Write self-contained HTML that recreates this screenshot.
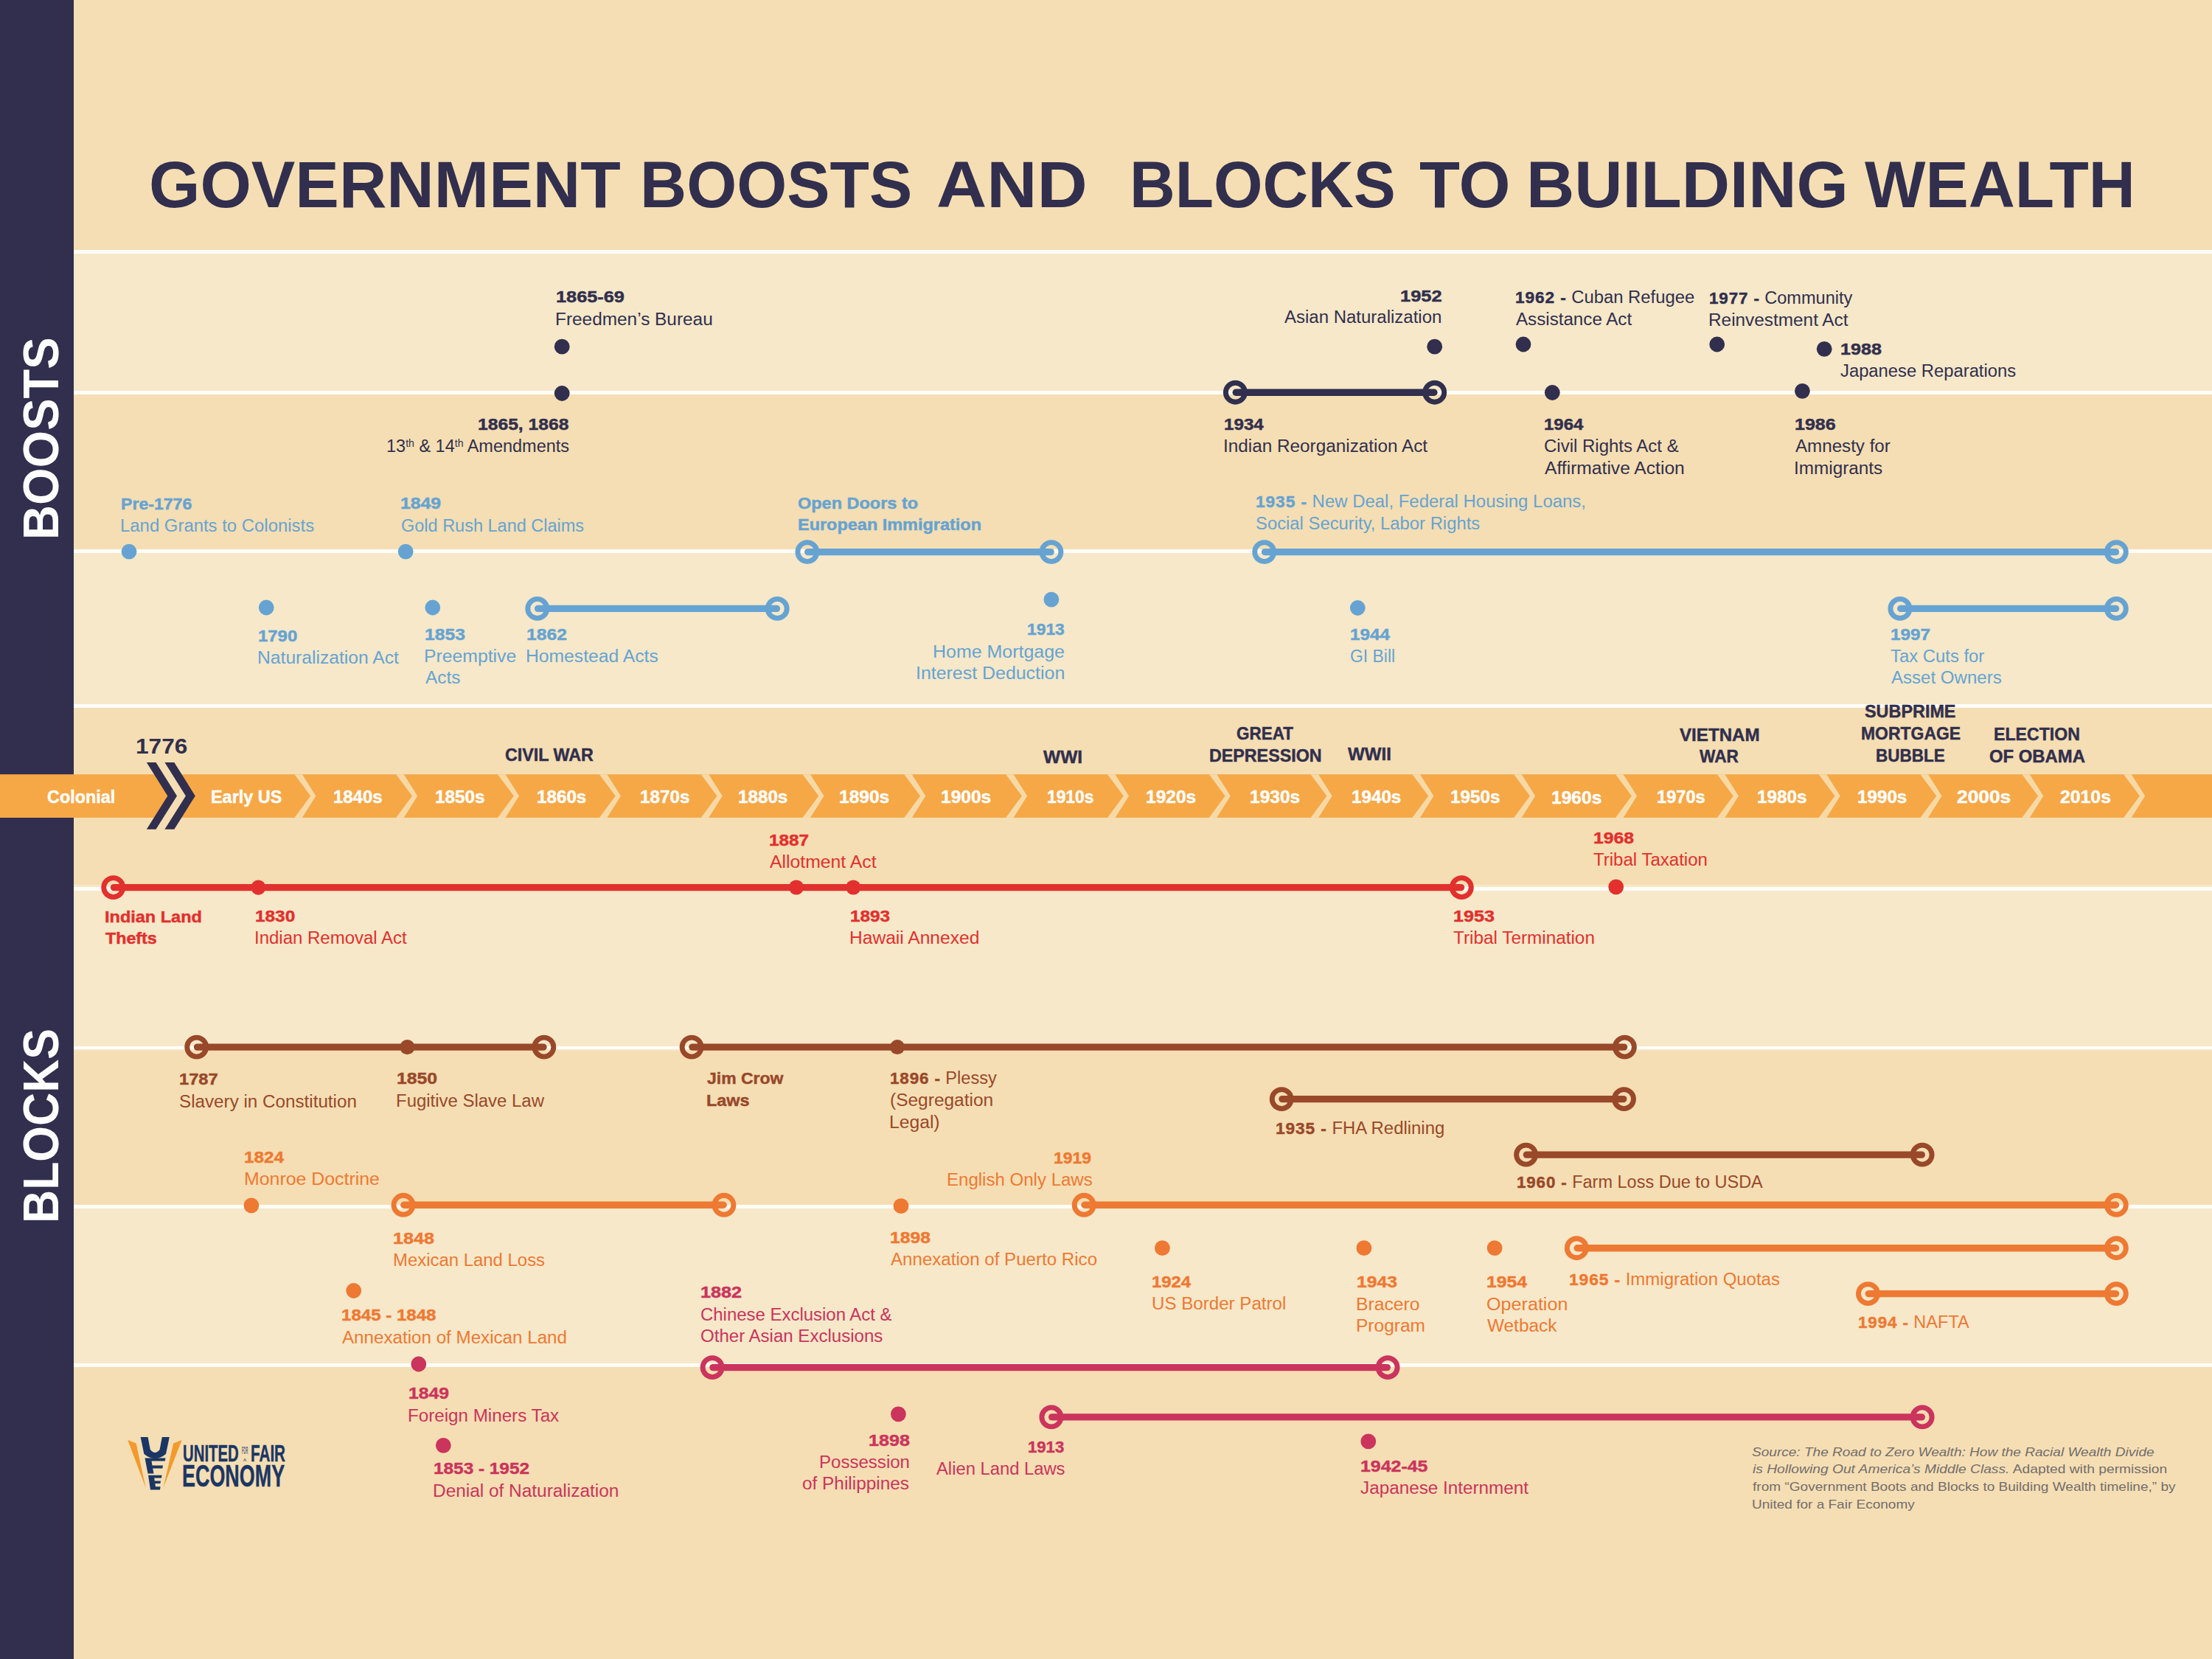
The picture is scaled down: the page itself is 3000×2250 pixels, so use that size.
<!DOCTYPE html><html><head><meta charset="utf-8"><title>Government Boosts and Blocks to Building Wealth</title><style>
html,body{margin:0;padding:0}
body{width:3000px;height:2250px;position:relative;overflow:hidden;background:#f5deb3;font-family:"Liberation Sans", sans-serif;}
.t{position:absolute;white-space:nowrap;line-height:1;transform-origin:0 0;display:block}
.t sup{font-size:.6em;vertical-align:baseline;position:relative;top:-.5em;line-height:0}
.t b{-webkit-text-stroke:.45px currentColor;font-size:.95em;letter-spacing:.04em}
.bm{display:inline-block;width:0;height:0}
.hv{-webkit-text-stroke:.45px currentColor}
.band{position:absolute;left:100px;width:2900px;background:#f6e8c9}
.ln{position:absolute;left:100px;width:2900px;height:5px;background:#fffdf8}
svg{position:absolute;left:0;top:0}
</style></head><body>
<div class="band" style="top:341.7px;height:191.2px"></div>
<div class="band" style="top:747.5px;height:210.0px"></div>
<div class="band" style="top:1199.7px;height:225.3px"></div>
<div class="band" style="top:1636.4px;height:215.0px"></div>
<div class="ln" style="top:339.2px;height:5px;left:100px;width:2900px"></div>
<div class="ln" style="top:530.4px;height:5px;left:100px;width:2900px"></div>
<div class="ln" style="top:745.0px;height:5px;left:100px;width:2900px"></div>
<div class="ln" style="top:955.0px;height:5px;left:98px;width:2902px"></div>
<div class="ln" style="top:1202.8px;height:5.2px;left:98px;width:2902px"></div>
<div class="ln" style="top:1418.6px;height:4.4px;left:98px;width:2902px"></div>
<div class="ln" style="top:1633.8px;height:5.2px;left:98px;width:2902px"></div>
<div class="ln" style="top:1849.0px;height:5.2px;left:98px;width:2902px"></div>
<div style="position:absolute;left:0;top:0;width:100px;height:2250px;background:#312f4d"></div>
<svg width="3000" height="2250" viewBox="0 0 3000 2250"><rect x="0" y="1050.2" width="3000" height="58.799999999999955" fill="#f6a847"/><polygon points="409.9,1050.2 428.4,1079.6 409.9,1109.0 399.4,1109.0 421.2,1079.6 399.4,1050.2" fill="#f7d9a6"/><polygon points="547.7,1050.2 566.2,1079.6 547.7,1109.0 537.2,1109.0 559.0,1079.6 537.2,1050.2" fill="#f7d9a6"/><polygon points="685.5,1050.2 704.0,1079.6 685.5,1109.0 675.0,1109.0 696.8,1079.6 675.0,1050.2" fill="#f7d9a6"/><polygon points="823.4,1050.2 841.9,1079.6 823.4,1109.0 812.9,1109.0 834.7,1079.6 812.9,1050.2" fill="#f7d9a6"/><polygon points="961.2,1050.2 979.7,1079.6 961.2,1109.0 950.7,1109.0 972.5,1079.6 950.7,1050.2" fill="#f7d9a6"/><polygon points="1099.0,1050.2 1117.5,1079.6 1099.0,1109.0 1088.5,1109.0 1110.3,1079.6 1088.5,1050.2" fill="#f7d9a6"/><polygon points="1236.8,1050.2 1255.3,1079.6 1236.8,1109.0 1226.3,1109.0 1248.1,1079.6 1226.3,1050.2" fill="#f7d9a6"/><polygon points="1374.6,1050.2 1393.1,1079.6 1374.6,1109.0 1364.1,1109.0 1385.9,1079.6 1364.1,1050.2" fill="#f7d9a6"/><polygon points="1512.5,1050.2 1531.0,1079.6 1512.5,1109.0 1502.0,1109.0 1523.8,1079.6 1502.0,1050.2" fill="#f7d9a6"/><polygon points="1650.3,1050.2 1668.8,1079.6 1650.3,1109.0 1639.8,1109.0 1661.6,1079.6 1639.8,1050.2" fill="#f7d9a6"/><polygon points="1788.1,1050.2 1806.6,1079.6 1788.1,1109.0 1777.6,1109.0 1799.4,1079.6 1777.6,1050.2" fill="#f7d9a6"/><polygon points="1925.9,1050.2 1944.4,1079.6 1925.9,1109.0 1915.4,1109.0 1937.2,1079.6 1915.4,1050.2" fill="#f7d9a6"/><polygon points="2063.7,1050.2 2082.2,1079.6 2063.7,1109.0 2053.2,1109.0 2075.0,1079.6 2053.2,1050.2" fill="#f7d9a6"/><polygon points="2201.6,1050.2 2220.1,1079.6 2201.6,1109.0 2191.1,1109.0 2212.9,1079.6 2191.1,1050.2" fill="#f7d9a6"/><polygon points="2339.4,1050.2 2357.9,1079.6 2339.4,1109.0 2328.9,1109.0 2350.7,1079.6 2328.9,1050.2" fill="#f7d9a6"/><polygon points="2477.2,1050.2 2495.7,1079.6 2477.2,1109.0 2466.7,1109.0 2488.5,1079.6 2466.7,1050.2" fill="#f7d9a6"/><polygon points="2615.0,1050.2 2633.5,1079.6 2615.0,1109.0 2604.5,1109.0 2626.3,1079.6 2604.5,1050.2" fill="#f7d9a6"/><polygon points="2752.8,1050.2 2771.3,1079.6 2752.8,1109.0 2742.3,1109.0 2764.1,1079.6 2742.3,1050.2" fill="#f7d9a6"/><polygon points="2890.7,1050.2 2909.2,1079.6 2890.7,1109.0 2880.2,1109.0 2902.0,1079.6 2880.2,1050.2" fill="#f7d9a6"/><polygon points="199.5,1033.9 235.5,1033.9 264.0,1079.4 235.5,1124.8 199.5,1124.8 228.0,1079.4" fill="#f5deb3"/><polygon points="198.8,1033.9 211.5,1033.9 240.0,1079.4 211.5,1124.8 198.8,1124.8 227.3,1079.4" fill="#312f4d"/><polygon points="223.4,1033.9 236.3,1033.9 264.8,1079.4 236.3,1124.8 223.4,1124.8 251.9,1079.4" fill="#312f4d"/><line x1="1676.2" y1="532.2" x2="1944.9" y2="532.2" stroke="#312f4d" stroke-width="9.4" stroke-linecap="round"/><circle cx="1675.4" cy="532.2" r="13.0" fill="none" stroke="#312f4d" stroke-width="6.9"/><circle cx="1945.7" cy="532.2" r="13.0" fill="none" stroke="#312f4d" stroke-width="6.9"/><line x1="1095.7" y1="748.6" x2="1425.1" y2="748.6" stroke="#66a3d2" stroke-width="9.4" stroke-linecap="round"/><circle cx="1094.9" cy="748.6" r="13.0" fill="none" stroke="#66a3d2" stroke-width="6.9"/><circle cx="1425.9" cy="748.6" r="13.0" fill="none" stroke="#66a3d2" stroke-width="6.9"/><line x1="1715.5" y1="748.6" x2="2869.5" y2="748.6" stroke="#66a3d2" stroke-width="9.4" stroke-linecap="round"/><circle cx="1714.7" cy="748.6" r="13.0" fill="none" stroke="#66a3d2" stroke-width="6.9"/><circle cx="2870.3" cy="748.6" r="13.0" fill="none" stroke="#66a3d2" stroke-width="6.9"/><line x1="729.6" y1="825.4" x2="1053.4" y2="825.4" stroke="#66a3d2" stroke-width="9.4" stroke-linecap="round"/><circle cx="728.8" cy="825.4" r="13.0" fill="none" stroke="#66a3d2" stroke-width="6.9"/><circle cx="1054.2" cy="825.4" r="13.0" fill="none" stroke="#66a3d2" stroke-width="6.9"/><line x1="2577.7" y1="825.4" x2="2869.5" y2="825.4" stroke="#66a3d2" stroke-width="9.4" stroke-linecap="round"/><circle cx="2576.9" cy="825.4" r="13.0" fill="none" stroke="#66a3d2" stroke-width="6.9"/><circle cx="2870.3" cy="825.4" r="13.0" fill="none" stroke="#66a3d2" stroke-width="6.9"/><line x1="154.5" y1="1203.6" x2="1981.5" y2="1203.6" stroke="#e2302e" stroke-width="9.4" stroke-linecap="round"/><circle cx="153.7" cy="1203.6" r="13.0" fill="none" stroke="#e2302e" stroke-width="6.9"/><circle cx="1982.3" cy="1203.6" r="13.0" fill="none" stroke="#e2302e" stroke-width="6.9"/><line x1="267.5" y1="1420.1" x2="737.0" y2="1420.1" stroke="#99482a" stroke-width="9.4" stroke-linecap="round"/><circle cx="266.7" cy="1420.1" r="13.0" fill="none" stroke="#99482a" stroke-width="6.9"/><circle cx="737.8" cy="1420.1" r="13.0" fill="none" stroke="#99482a" stroke-width="6.9"/><line x1="938.9" y1="1420.1" x2="2202.6" y2="1420.1" stroke="#99482a" stroke-width="9.4" stroke-linecap="round"/><circle cx="938.1" cy="1420.1" r="13.0" fill="none" stroke="#99482a" stroke-width="6.9"/><circle cx="2203.4" cy="1420.1" r="13.0" fill="none" stroke="#99482a" stroke-width="6.9"/><line x1="1739.0" y1="1490.6" x2="2201.7" y2="1490.6" stroke="#99482a" stroke-width="9.4" stroke-linecap="round"/><circle cx="1738.2" cy="1490.6" r="13.0" fill="none" stroke="#99482a" stroke-width="6.9"/><circle cx="2202.5" cy="1490.6" r="13.0" fill="none" stroke="#99482a" stroke-width="6.9"/><line x1="2070.4" y1="1566.1" x2="2606.3" y2="1566.1" stroke="#99482a" stroke-width="9.4" stroke-linecap="round"/><circle cx="2069.6" cy="1566.1" r="13.0" fill="none" stroke="#99482a" stroke-width="6.9"/><circle cx="2607.1" cy="1566.1" r="13.0" fill="none" stroke="#99482a" stroke-width="6.9"/><line x1="547.8" y1="1634.3" x2="981.1" y2="1634.3" stroke="#ee7933" stroke-width="9.4" stroke-linecap="round"/><circle cx="547" cy="1634.3" r="13.0" fill="none" stroke="#ee7933" stroke-width="6.9"/><circle cx="981.9" cy="1634.3" r="13.0" fill="none" stroke="#ee7933" stroke-width="6.9"/><line x1="1471.0" y1="1634.3" x2="2869.5" y2="1634.3" stroke="#ee7933" stroke-width="9.4" stroke-linecap="round"/><circle cx="1470.2" cy="1634.3" r="13.0" fill="none" stroke="#ee7933" stroke-width="6.9"/><circle cx="2870.3" cy="1634.3" r="13.0" fill="none" stroke="#ee7933" stroke-width="6.9"/><line x1="2139.1" y1="1692.7" x2="2869.5" y2="1692.7" stroke="#ee7933" stroke-width="9.4" stroke-linecap="round"/><circle cx="2138.3" cy="1692.7" r="13.0" fill="none" stroke="#ee7933" stroke-width="6.9"/><circle cx="2870.3" cy="1692.7" r="13.0" fill="none" stroke="#ee7933" stroke-width="6.9"/><line x1="2534.3" y1="1754.6" x2="2869.5" y2="1754.6" stroke="#ee7933" stroke-width="9.4" stroke-linecap="round"/><circle cx="2533.5" cy="1754.6" r="13.0" fill="none" stroke="#ee7933" stroke-width="6.9"/><circle cx="2870.3" cy="1754.6" r="13.0" fill="none" stroke="#ee7933" stroke-width="6.9"/><line x1="966.9" y1="1854.6" x2="1881.3" y2="1854.6" stroke="#cb345c" stroke-width="9.4" stroke-linecap="round"/><circle cx="966.1" cy="1854.6" r="13.0" fill="none" stroke="#cb345c" stroke-width="6.9"/><circle cx="1882.1" cy="1854.6" r="13.0" fill="none" stroke="#cb345c" stroke-width="6.9"/><line x1="1426.7" y1="1921.9" x2="2606.3" y2="1921.9" stroke="#cb345c" stroke-width="9.4" stroke-linecap="round"/><circle cx="1425.9" cy="1921.9" r="13.0" fill="none" stroke="#cb345c" stroke-width="6.9"/><circle cx="2607.1" cy="1921.9" r="13.0" fill="none" stroke="#cb345c" stroke-width="6.9"/><circle cx="762.2" cy="470.2" r="10.4" fill="#312f4d"/><circle cx="762.2" cy="533.5" r="10.4" fill="#312f4d"/><circle cx="1945.7" cy="470.2" r="10.4" fill="#312f4d"/><circle cx="2066" cy="467" r="10.4" fill="#312f4d"/><circle cx="2328.7" cy="467" r="10.4" fill="#312f4d"/><circle cx="2474.2" cy="473.3" r="10.4" fill="#312f4d"/><circle cx="2105.3" cy="532.5" r="10.4" fill="#312f4d"/><circle cx="2444.4" cy="530.3" r="10.4" fill="#312f4d"/><circle cx="175" cy="748.1" r="10.4" fill="#66a3d2"/><circle cx="550.2" cy="748.1" r="10.4" fill="#66a3d2"/><circle cx="361.2" cy="824" r="10.4" fill="#66a3d2"/><circle cx="586.8" cy="824" r="10.4" fill="#66a3d2"/><circle cx="1425.9" cy="813.2" r="10.4" fill="#66a3d2"/><circle cx="1841.3" cy="824.5" r="10.4" fill="#66a3d2"/><circle cx="350.4" cy="1203.6" r="10.1" fill="#e2302e"/><circle cx="1080" cy="1203.5" r="10.1" fill="#e2302e"/><circle cx="1157.3" cy="1203.5" r="10.1" fill="#e2302e"/><circle cx="2191.7" cy="1202.9" r="10.4" fill="#e2302e"/><circle cx="552.4" cy="1420.1" r="10.2" fill="#99482a"/><circle cx="1217" cy="1420.1" r="10" fill="#99482a"/><circle cx="340.9" cy="1634.8" r="10.4" fill="#ee7933"/><circle cx="479.7" cy="1750.5" r="10.4" fill="#ee7933"/><circle cx="1222" cy="1635.7" r="10.4" fill="#ee7933"/><circle cx="1576.4" cy="1692.7" r="10.4" fill="#ee7933"/><circle cx="1849.9" cy="1692.7" r="10.4" fill="#ee7933"/><circle cx="2027.1" cy="1692.7" r="10.4" fill="#ee7933"/><circle cx="567.8" cy="1850" r="10.4" fill="#cb345c"/><circle cx="601.3" cy="1960.3" r="10.4" fill="#cb345c"/><circle cx="1218.4" cy="1917.8" r="10.4" fill="#cb345c"/><circle cx="1855.8" cy="1954.9" r="10.4" fill="#cb345c"/>
<g id="logo">
<polygon points="173.2,1953 184.6,1957.6 197.6,2017.5" fill="#f39a2c"/>
<polygon points="246.6,1953 235.2,1957.6 221.6,2017.5" fill="#f39a2c"/>
<path d="M190.6,1949 L200.6,1949 L203.8,1966 Q210.2,1974 216.6,1966 L219.8,1949 L229.8,1949 L225,1972 Q210.2,1984 195.4,1972 Z" fill="#1b3664"/>
<path d="M196.5,1977.5 L224.5,1977.5 L223.8,1981.5 L205.5,1981.5 L206.5,1987.5 L221,1987.5 L220.3,1991.5 L207.2,1991.5 L208.5,1998.5 L200.5,1998.5 Z" fill="#1b3664"/>
<path d="M201,2000.8 L219.6,2000.8 L219,2004.6 L209.2,2004.6 L209.8,2008.4 L218,2008.4 L217.4,2012 L210.4,2012 L211,2016.2 L217.6,2016.2 L217,2020.6 L204,2020.6 Z" fill="#1b3664"/>
<text x="328" y="1972.3" font-family="Liberation Sans, sans-serif" font-weight="bold" font-size="15" fill="#5b6a88" textLength="8.2" lengthAdjust="spacingAndGlyphs">FOR</text>
<text x="329.8" y="1981.6" font-family="Liberation Sans, sans-serif" font-weight="bold" font-size="5.5" fill="#5b6a88" textLength="4.6" lengthAdjust="spacingAndGlyphs">A</text>
</g>
</svg>
<div class="t sb" style="font-size:69px;font-weight:bold;color:#fff;left:0;top:0;transform-origin:0 0;transform:translate(20.6px,731.9499999999999px) rotate(-90deg) scaleX(0.9425)">BOOSTS</div>
<div class="t sb" style="font-size:69px;font-weight:bold;color:#fff;left:0;top:0;transform-origin:0 0;transform:translate(20.6px,1659.05px) rotate(-90deg) scaleX(0.9066)">BLOCKS</div>
<span class="t hv" style="font-size:21.6px;font-weight:bold;color:#312f4d;left:753.81px;top:392.1px;transform:scaleX(1.1729);">1865-69</span>
<span class="t" style="font-size:23px;font-weight:normal;color:#312f4d;left:752.91px;top:422.1px;transform:scaleX(1.0604);">Freedmen’s Bureau</span>
<span class="t hv" style="font-size:21.6px;font-weight:bold;color:#312f4d;left:648.02px;top:564.8px;transform:scaleX(1.1422);">1865, 1868</span>
<span class="t" style="font-size:23px;font-weight:normal;color:#312f4d;left:523.56px;top:594.3px;transform:scaleX(1.0209);">13<sup>th</sup> &amp; 14<sup>th</sup> Amendments</span>
<span class="t hv" style="font-size:21.6px;font-weight:bold;color:#312f4d;left:1898.78px;top:390.6px;transform:scaleX(1.1799);">1952</span>
<span class="t" style="font-size:23px;font-weight:normal;color:#312f4d;left:1742.44px;top:419.3px;transform:scaleX(1.0432);">Asian Naturalization</span>
<span class="t hv" style="font-size:21.6px;font-weight:bold;color:#312f4d;left:1660.45px;top:564.8px;transform:scaleX(1.1191);">1934</span>
<span class="t" style="font-size:23px;font-weight:normal;color:#312f4d;left:1659.43px;top:594.3px;transform:scaleX(1.0572);">Indian Reorganization Act</span>
<span class="t" style="font-size:23px;font-weight:normal;color:#312f4d;left:2054.86px;top:391.8px;transform:scaleX(1.0363);"><b>1962 -</b> Cuban Refugee</span>
<span class="t" style="font-size:23px;font-weight:normal;color:#312f4d;left:2055.84px;top:421.6px;transform:scaleX(1.0504);">Assistance Act</span>
<span class="t" style="font-size:23px;font-weight:normal;color:#312f4d;left:2318.28px;top:392.7px;transform:scaleX(1.0230);"><b>1977 -</b> Community</span>
<span class="t" style="font-size:23px;font-weight:normal;color:#312f4d;left:2317.32px;top:422.5px;transform:scaleX(1.0590);">Reinvestment Act</span>
<span class="t hv" style="font-size:21.6px;font-weight:bold;color:#312f4d;left:2496.19px;top:462.6px;transform:scaleX(1.1628);">1988</span>
<span class="t" style="font-size:23px;font-weight:normal;color:#312f4d;left:2496.38px;top:492.1px;transform:scaleX(1.0347);">Japanese Reparations</span>
<span class="t hv" style="font-size:21.6px;font-weight:bold;color:#312f4d;left:2094.44px;top:564.8px;transform:scaleX(1.1103);">1964</span>
<span class="t" style="font-size:23px;font-weight:normal;color:#312f4d;left:2094.44px;top:594.3px;transform:scaleX(1.0434);">Civil Rights Act &amp;</span>
<span class="t" style="font-size:23px;font-weight:normal;color:#312f4d;left:2095.44px;top:623.7px;transform:scaleX(1.0706);">Affirmative Action</span>
<span class="t hv" style="font-size:21.6px;font-weight:bold;color:#312f4d;left:2433.80px;top:564.8px;transform:scaleX(1.1590);">1986</span>
<span class="t" style="font-size:23px;font-weight:normal;color:#312f4d;left:2434.84px;top:594.3px;transform:scaleX(1.0497);">Amnesty for</span>
<span class="t" style="font-size:23px;font-weight:normal;color:#312f4d;left:2432.82px;top:623.7px;transform:scaleX(1.0569);">Immigrants</span>
<span class="t hv" style="font-size:21.6px;font-weight:bold;color:#66a3d2;left:163.82px;top:672.5px;transform:scaleX(1.0688);">Pre-1776</span>
<span class="t" style="font-size:23px;font-weight:normal;color:#66a3d2;left:162.93px;top:702.0px;transform:scaleX(1.0394);">Land Grants to Colonists</span>
<span class="t hv" style="font-size:21.6px;font-weight:bold;color:#66a3d2;left:543.23px;top:672.3px;transform:scaleX(1.1477);">1849</span>
<span class="t" style="font-size:23px;font-weight:normal;color:#66a3d2;left:544.26px;top:702.0px;transform:scaleX(1.0215);">Gold Rush Land Claims</span>
<span class="t hv" style="font-size:21.6px;font-weight:bold;color:#66a3d2;left:1082.14px;top:671.6px;transform:scaleX(1.0875);">Open Doors to</span>
<span class="t hv" style="font-size:21.6px;font-weight:bold;color:#66a3d2;left:1082.02px;top:701.0px;transform:scaleX(1.0866);">European Immigration</span>
<span class="t" style="font-size:23px;font-weight:normal;color:#66a3d2;left:1703.46px;top:669.0px;transform:scaleX(1.0411);"><b>1935 -</b> New Deal, Federal Housing Loans,</span>
<span class="t" style="font-size:23px;font-weight:normal;color:#66a3d2;left:1703.40px;top:699.0px;transform:scaleX(1.0361);">Social Security, Labor Rights</span>
<span class="t hv" style="font-size:21.6px;font-weight:bold;color:#66a3d2;left:349.64px;top:851.9px;transform:scaleX(1.1082);">1790</span>
<span class="t" style="font-size:23px;font-weight:normal;color:#66a3d2;left:348.72px;top:881.0px;transform:scaleX(1.0722);">Naturalization Act</span>
<span class="t hv" style="font-size:21.6px;font-weight:bold;color:#66a3d2;left:575.61px;top:850.1px;transform:scaleX(1.1419);">1853</span>
<span class="t" style="font-size:23px;font-weight:normal;color:#66a3d2;left:574.68px;top:879.2px;transform:scaleX(1.0765);">Preemptive</span>
<span class="t" style="font-size:23px;font-weight:normal;color:#66a3d2;left:576.63px;top:908.1px;transform:scaleX(1.0596);">Acts</span>
<span class="t hv" style="font-size:21.6px;font-weight:bold;color:#66a3d2;left:714.23px;top:850.1px;transform:scaleX(1.1419);">1862</span>
<span class="t" style="font-size:23px;font-weight:normal;color:#66a3d2;left:713.31px;top:879.2px;transform:scaleX(1.0734);">Homestead Acts</span>
<span class="t hv" style="font-size:21.6px;font-weight:bold;color:#66a3d2;left:1393.23px;top:843.1px;transform:scaleX(1.0581);">1913</span>
<span class="t" style="font-size:23px;font-weight:normal;color:#66a3d2;left:1265.08px;top:872.9px;transform:scaleX(1.0855);">Home Mortgage</span>
<span class="t" style="font-size:23px;font-weight:normal;color:#66a3d2;left:1242.00px;top:902.2px;transform:scaleX(1.0835);">Interest Deduction</span>
<span class="t hv" style="font-size:21.6px;font-weight:bold;color:#66a3d2;left:1830.65px;top:850.1px;transform:scaleX(1.1230);">1944</span>
<span class="t" style="font-size:23px;font-weight:normal;color:#66a3d2;left:1830.66px;top:878.7px;transform:scaleX(0.9957);">GI Bill</span>
<span class="t hv" style="font-size:21.6px;font-weight:bold;color:#66a3d2;left:2564.01px;top:850.1px;transform:scaleX(1.1273);">1997</span>
<span class="t" style="font-size:23px;font-weight:normal;color:#66a3d2;left:2564.19px;top:879.2px;transform:scaleX(1.0376);">Tax Cuts for</span>
<span class="t" style="font-size:23px;font-weight:normal;color:#66a3d2;left:2565.04px;top:908.1px;transform:scaleX(1.0454);">Asset Owners</span>
<span class="t" style="font-size:28.8px;font-weight:bold;color:#312f4d;left:184.04px;top:998.3px;transform:scaleX(1.0968);">1776</span>
<span class="t hv" style="font-size:23px;font-weight:bold;color:#312f4d;left:684.75px;top:1013.2px;transform:scaleX(1.0123);">CIVIL WAR</span>
<span class="t hv" style="font-size:23px;font-weight:bold;color:#312f4d;left:1414.93px;top:1015.5px;transform:scaleX(1.0664);">WWI</span>
<span class="t hv" style="font-size:23px;font-weight:bold;color:#312f4d;left:1677.16px;top:984.3px;transform:scaleX(0.9766);">GREAT</span>
<span class="t hv" style="font-size:23px;font-weight:bold;color:#312f4d;left:1639.80px;top:1013.7px;transform:scaleX(1.0113);">DEPRESSION</span>
<span class="t hv" style="font-size:23px;font-weight:bold;color:#312f4d;left:1827.55px;top:1012.3px;transform:scaleX(1.0491);">WWII</span>
<span class="t hv" style="font-size:23px;font-weight:bold;color:#312f4d;left:2277.90px;top:985.6px;transform:scaleX(1.0495);">VIETNAM</span>
<span class="t hv" style="font-size:23px;font-weight:bold;color:#312f4d;left:2305.35px;top:1015.0px;transform:scaleX(0.9861);">WAR</span>
<span class="t hv" style="font-size:23px;font-weight:bold;color:#312f4d;left:2529.33px;top:954.4px;transform:scaleX(1.0170);">SUBPRIME</span>
<span class="t hv" style="font-size:23px;font-weight:bold;color:#312f4d;left:2524.43px;top:984.3px;transform:scaleX(0.9975);">MORTGAGE</span>
<span class="t hv" style="font-size:23px;font-weight:bold;color:#312f4d;left:2544.23px;top:1013.7px;transform:scaleX(0.9779);">BUBBLE</span>
<span class="t hv" style="font-size:23px;font-weight:bold;color:#312f4d;left:2704.22px;top:985.2px;transform:scaleX(1.0058);">ELECTION</span>
<span class="t hv" style="font-size:23px;font-weight:bold;color:#312f4d;left:2697.75px;top:1014.6px;transform:scaleX(1.0380);">OF OBAMA</span>
<span class="t hv" style="font-size:23.5px;font-weight:bold;color:#ffffff;left:64.14px;top:1070.0px;transform:scaleX(0.9949);">Colonial</span>
<span class="t hv" style="font-size:23.5px;font-weight:bold;color:#ffffff;left:285.80px;top:1070.0px;transform:scaleX(0.9962);">Early US</span>
<span class="t hv" style="font-size:23.5px;font-weight:bold;color:#ffffff;left:451.82px;top:1070.0px;transform:scaleX(1.0172);">1840s</span>
<span class="t hv" style="font-size:23.5px;font-weight:bold;color:#ffffff;left:589.61px;top:1070.0px;transform:scaleX(1.0319);">1850s</span>
<span class="t hv" style="font-size:23.5px;font-weight:bold;color:#ffffff;left:728.21px;top:1070.0px;transform:scaleX(1.0298);">1860s</span>
<span class="t hv" style="font-size:23.5px;font-weight:bold;color:#ffffff;left:867.63px;top:1070.0px;transform:scaleX(1.0319);">1870s</span>
<span class="t hv" style="font-size:23.5px;font-weight:bold;color:#ffffff;left:1001.42px;top:1070.0px;transform:scaleX(1.0298);">1880s</span>
<span class="t hv" style="font-size:23.5px;font-weight:bold;color:#ffffff;left:1138.21px;top:1070.0px;transform:scaleX(1.0445);">1890s</span>
<span class="t hv" style="font-size:23.5px;font-weight:bold;color:#ffffff;left:1275.99px;top:1070.0px;transform:scaleX(1.0445);">1900s</span>
<span class="t hv" style="font-size:23.5px;font-weight:bold;color:#ffffff;left:1419.65px;top:1070.0px;transform:scaleX(0.9706);">1910s</span>
<span class="t hv" style="font-size:23.5px;font-weight:bold;color:#ffffff;left:1554.22px;top:1070.0px;transform:scaleX(1.0437);">1920s</span>
<span class="t hv" style="font-size:23.5px;font-weight:bold;color:#ffffff;left:1695.20px;top:1070.0px;transform:scaleX(1.0445);">1930s</span>
<span class="t hv" style="font-size:23.5px;font-weight:bold;color:#ffffff;left:1833.02px;top:1070.0px;transform:scaleX(1.0298);">1940s</span>
<span class="t hv" style="font-size:23.5px;font-weight:bold;color:#ffffff;left:1967.41px;top:1070.0px;transform:scaleX(1.0319);">1950s</span>
<span class="t hv" style="font-size:23.5px;font-weight:bold;color:#ffffff;left:2104.42px;top:1071.0px;transform:scaleX(1.0453);">1960s</span>
<span class="t hv" style="font-size:23.5px;font-weight:bold;color:#ffffff;left:2247.23px;top:1070.0px;transform:scaleX(1.0046);">1970s</span>
<span class="t hv" style="font-size:23.5px;font-weight:bold;color:#ffffff;left:2383.21px;top:1070.0px;transform:scaleX(1.0319);">1980s</span>
<span class="t hv" style="font-size:23.5px;font-weight:bold;color:#ffffff;left:2519.41px;top:1070.0px;transform:scaleX(1.0298);">1990s</span>
<span class="t hv" style="font-size:23.5px;font-weight:bold;color:#ffffff;left:2653.96px;top:1070.0px;transform:scaleX(1.1199);">2000s</span>
<span class="t hv" style="font-size:23.5px;font-weight:bold;color:#ffffff;left:2793.55px;top:1070.0px;transform:scaleX(1.0546);">2010s</span>
<span class="t hv" style="font-size:21.6px;font-weight:bold;color:#e2302e;left:141.63px;top:1233.0px;transform:scaleX(1.0882);">Indian Land</span>
<span class="t hv" style="font-size:21.6px;font-weight:bold;color:#e2302e;left:142.72px;top:1262.4px;transform:scaleX(1.0768);">Thefts</span>
<span class="t hv" style="font-size:21.6px;font-weight:bold;color:#e2302e;left:346.00px;top:1232.1px;transform:scaleX(1.1291);">1830</span>
<span class="t" style="font-size:23px;font-weight:normal;color:#e2302e;left:345.04px;top:1261.2px;transform:scaleX(1.0429);">Indian Removal Act</span>
<span class="t hv" style="font-size:21.6px;font-weight:bold;color:#e2302e;left:1042.62px;top:1128.6px;transform:scaleX(1.1273);">1887</span>
<span class="t" style="font-size:23px;font-weight:normal;color:#e2302e;left:1043.64px;top:1157.7px;transform:scaleX(1.0770);">Allotment Act</span>
<span class="t hv" style="font-size:21.6px;font-weight:bold;color:#e2302e;left:1153.01px;top:1232.1px;transform:scaleX(1.1263);">1893</span>
<span class="t" style="font-size:23px;font-weight:normal;color:#e2302e;left:1152.09px;top:1261.2px;transform:scaleX(1.0692);">Hawaii Annexed</span>
<span class="t hv" style="font-size:21.6px;font-weight:bold;color:#e2302e;left:2161.21px;top:1126.3px;transform:scaleX(1.1467);">1968</span>
<span class="t" style="font-size:23px;font-weight:normal;color:#e2302e;left:2161.38px;top:1155.4px;transform:scaleX(1.0445);">Tribal Taxation</span>
<span class="t hv" style="font-size:21.6px;font-weight:bold;color:#e2302e;left:1970.80px;top:1232.1px;transform:scaleX(1.1631);">1953</span>
<span class="t" style="font-size:23px;font-weight:normal;color:#e2302e;left:1970.99px;top:1261.2px;transform:scaleX(1.0573);">Tribal Termination</span>
<span class="t hv" style="font-size:21.6px;font-weight:bold;color:#99482a;left:243.03px;top:1453.4px;transform:scaleX(1.0962);">1787</span>
<span class="t" style="font-size:23px;font-weight:normal;color:#99482a;left:242.99px;top:1483.4px;transform:scaleX(1.0528);">Slavery in Constitution</span>
<span class="t hv" style="font-size:21.6px;font-weight:bold;color:#99482a;left:537.62px;top:1452.0px;transform:scaleX(1.1441);">1850</span>
<span class="t" style="font-size:23px;font-weight:normal;color:#99482a;left:536.72px;top:1481.5px;transform:scaleX(1.0411);">Fugitive Slave Law</span>
<span class="t hv" style="font-size:21.6px;font-weight:bold;color:#99482a;left:958.61px;top:1452.0px;transform:scaleX(1.0634);">Jim Crow</span>
<span class="t hv" style="font-size:21.6px;font-weight:bold;color:#99482a;left:957.63px;top:1481.8px;transform:scaleX(1.0831);">Laws</span>
<span class="t" style="font-size:23px;font-weight:normal;color:#99482a;left:1206.87px;top:1451.3px;transform:scaleX(1.0242);"><b>1896 -</b> Plessy</span>
<span class="t" style="font-size:23px;font-weight:normal;color:#99482a;left:1206.71px;top:1481.1px;transform:scaleX(1.0646);">(Segregation</span>
<span class="t" style="font-size:23px;font-weight:normal;color:#99482a;left:1205.85px;top:1510.5px;transform:scaleX(1.0728);">Legal)</span>
<span class="t" style="font-size:23px;font-weight:normal;color:#99482a;left:1729.86px;top:1519.1px;transform:scaleX(1.0391);"><b>1935 -</b> FHA Redlining</span>
<span class="t" style="font-size:23px;font-weight:normal;color:#99482a;left:2056.67px;top:1592.3px;transform:scaleX(1.0218);"><b>1960 -</b> Farm Loss Due to USDA</span>
<span class="t hv" style="font-size:21.6px;font-weight:bold;color:#ee7933;left:331.45px;top:1558.7px;transform:scaleX(1.1230);">1824</span>
<span class="t" style="font-size:23px;font-weight:normal;color:#ee7933;left:330.50px;top:1588.2px;transform:scaleX(1.0818);">Monroe Doctrine</span>
<span class="t hv" style="font-size:21.6px;font-weight:bold;color:#ee7933;left:533.39px;top:1668.6px;transform:scaleX(1.1628);">1848</span>
<span class="t" style="font-size:23px;font-weight:normal;color:#ee7933;left:532.52px;top:1697.6px;transform:scaleX(1.0399);">Mexican Land Loss</span>
<span class="t hv" style="font-size:21.6px;font-weight:bold;color:#ee7933;left:463.24px;top:1772.5px;transform:scaleX(1.1139);">1845 - 1848</span>
<span class="t" style="font-size:23px;font-weight:normal;color:#ee7933;left:464.24px;top:1802.5px;transform:scaleX(1.0507);">Annexation of Mexican Land</span>
<span class="t hv" style="font-size:21.6px;font-weight:bold;color:#ee7933;left:1429.44px;top:1559.6px;transform:scaleX(1.0596);">1919</span>
<span class="t" style="font-size:23px;font-weight:normal;color:#ee7933;left:1283.52px;top:1588.7px;transform:scaleX(1.0452);">English Only Laws</span>
<span class="t hv" style="font-size:21.6px;font-weight:bold;color:#ee7933;left:1206.82px;top:1668.1px;transform:scaleX(1.1416);">1898</span>
<span class="t" style="font-size:23px;font-weight:normal;color:#ee7933;left:1207.84px;top:1697.2px;transform:scaleX(1.0480);">Annexation of Puerto Rico</span>
<span class="t hv" style="font-size:21.6px;font-weight:bold;color:#ee7933;left:1562.45px;top:1728.2px;transform:scaleX(1.1063);">1924</span>
<span class="t" style="font-size:23px;font-weight:normal;color:#ee7933;left:1561.54px;top:1757.3px;transform:scaleX(1.0489);">US Border Patrol</span>
<span class="t hv" style="font-size:21.6px;font-weight:bold;color:#ee7933;left:1839.62px;top:1728.2px;transform:scaleX(1.1432);">1943</span>
<span class="t" style="font-size:23px;font-weight:normal;color:#ee7933;left:1838.65px;top:1757.8px;transform:scaleX(1.0752);">Bracero</span>
<span class="t" style="font-size:23px;font-weight:normal;color:#ee7933;left:1838.67px;top:1786.7px;transform:scaleX(1.0665);">Program</span>
<span class="t hv" style="font-size:21.6px;font-weight:bold;color:#ee7933;left:2016.22px;top:1728.2px;transform:scaleX(1.1419);">1954</span>
<span class="t" style="font-size:23px;font-weight:normal;color:#ee7933;left:2016.25px;top:1757.8px;transform:scaleX(1.0932);">Operation</span>
<span class="t" style="font-size:23px;font-weight:normal;color:#ee7933;left:2017.24px;top:1786.7px;transform:scaleX(1.0596);">Wetback</span>
<span class="t" style="font-size:23px;font-weight:normal;color:#ee7933;left:2127.67px;top:1724.3px;transform:scaleX(1.0426);"><b>1965 -</b> Immigration Quotas</span>
<span class="t" style="font-size:23px;font-weight:normal;color:#ee7933;left:2520.28px;top:1782.2px;transform:scaleX(1.0240);"><b>1994 -</b> NAFTA</span>
<span class="t hv" style="font-size:21.6px;font-weight:bold;color:#cb345c;left:949.98px;top:1741.8px;transform:scaleX(1.1667);">1882</span>
<span class="t" style="font-size:23px;font-weight:normal;color:#cb345c;left:950.04px;top:1771.8px;transform:scaleX(1.0412);">Chinese Exclusion Act &amp;</span>
<span class="t" style="font-size:23px;font-weight:normal;color:#cb345c;left:950.08px;top:1801.2px;transform:scaleX(1.0457);">Other Asian Exclusions</span>
<span class="t hv" style="font-size:21.6px;font-weight:bold;color:#cb345c;left:554.23px;top:1879.2px;transform:scaleX(1.1435);">1849</span>
<span class="t" style="font-size:23px;font-weight:normal;color:#cb345c;left:553.32px;top:1908.8px;transform:scaleX(1.0513);">Foreign Miners Tax</span>
<span class="t hv" style="font-size:21.6px;font-weight:bold;color:#cb345c;left:588.05px;top:1980.9px;transform:scaleX(1.1279);">1853 - 1952</span>
<span class="t" style="font-size:23px;font-weight:normal;color:#cb345c;left:587.11px;top:2010.5px;transform:scaleX(1.0612);">Denial of Naturalization</span>
<span class="t hv" style="font-size:21.6px;font-weight:bold;color:#cb345c;left:1177.78px;top:1942.5px;transform:scaleX(1.1628);">1898</span>
<span class="t" style="font-size:23px;font-weight:normal;color:#cb345c;left:1110.89px;top:1972.0px;transform:scaleX(1.0457);">Possession</span>
<span class="t" style="font-size:23px;font-weight:normal;color:#cb345c;left:1087.90px;top:2001.4px;transform:scaleX(1.0593);">of Philippines</span>
<span class="t hv" style="font-size:21.6px;font-weight:bold;color:#cb345c;left:1394.05px;top:1951.6px;transform:scaleX(1.0239);">1913</span>
<span class="t" style="font-size:23px;font-weight:normal;color:#cb345c;left:1269.64px;top:1980.6px;transform:scaleX(1.0338);">Alien Land Laws</span>
<span class="t hv" style="font-size:21.6px;font-weight:bold;color:#cb345c;left:1845.21px;top:1977.8px;transform:scaleX(1.1538);">1942-45</span>
<span class="t" style="font-size:23px;font-weight:normal;color:#cb345c;left:1845.38px;top:2007.3px;transform:scaleX(1.0553);">Japanese Internment</span>
<span class="t" style="font-size:16.6px;font-weight:normal;color:#736d6c;left:2375.98px;top:1961.8px;transform:scaleX(1.1480);"><i>Source: The Road to Zero Wealth: How the Racial Wealth Divide</i></span>
<span class="t" style="font-size:16.6px;font-weight:normal;color:#736d6c;left:2376.76px;top:1985.3px;transform:scaleX(1.1590);"><i>is Hollowing Out America’s Middle Class.</i> Adapted with permission</span>
<span class="t" style="font-size:16.6px;font-weight:normal;color:#736d6c;left:2376.84px;top:2009.2px;transform:scaleX(1.1482);">from “Government Boots and Blocks to Building Wealth timeline,” by</span>
<span class="t" style="font-size:16.6px;font-weight:normal;color:#736d6c;left:2375.74px;top:2032.8px;transform:scaleX(1.1451);">United for a Fair Economy</span>
<span class="t" style="font-size:89.5px;font-weight:bold;color:#312f4d;left:201.57px;top:205.8px;transform:scaleX(0.9972);">GOVERNMENT</span>
<span class="t" style="font-size:89.5px;font-weight:bold;color:#312f4d;left:867.65px;top:205.8px;transform:scaleX(0.9770);">BOOSTS</span>
<span class="t" style="font-size:89.5px;font-weight:bold;color:#312f4d;left:1270.09px;top:205.8px;transform:scaleX(1.0555);">AND</span>
<span class="t" style="font-size:89.5px;font-weight:bold;color:#312f4d;left:1532.03px;top:205.8px;transform:scaleX(0.9549);">BLOCKS</span>
<span class="t" style="font-size:89.5px;font-weight:bold;color:#312f4d;left:1925.14px;top:205.8px;transform:scaleX(1.0062);">TO</span>
<span class="t" style="font-size:89.5px;font-weight:bold;color:#312f4d;left:2070.02px;top:205.8px;transform:scaleX(1.0096);">BUILDING</span>
<span class="t" style="font-size:89.5px;font-weight:bold;color:#312f4d;left:2529.02px;top:205.8px;transform:scaleX(0.9755);">WEALTH</span>
<span class="t hv" style="font-size:31px;font-weight:bold;color:#1b3664;left:247.87px;top:1955.9px;transform:scaleX(0.6566);">UNITED</span>
<span class="t hv" style="font-size:31px;font-weight:bold;color:#1b3664;left:339.65px;top:1955.9px;transform:scaleX(0.6659);">FAIR</span>
<span class="t hv" style="font-size:42.4px;font-weight:bold;color:#1b3664;left:246.94px;top:1981.0px;transform:scaleX(0.6350);">ECONOMY</span>
</body></html>
